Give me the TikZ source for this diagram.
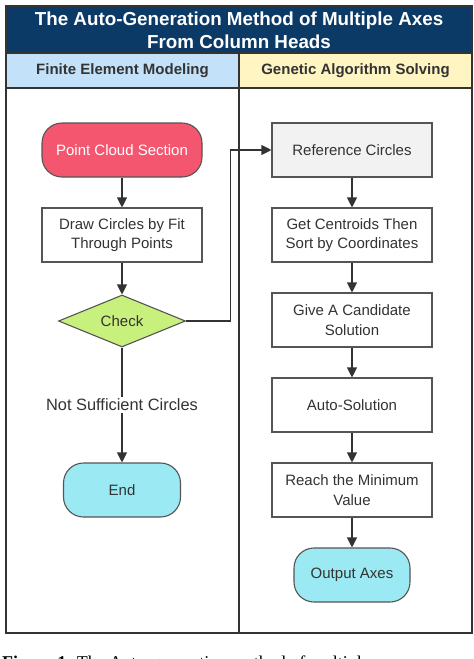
\documentclass[tikz,border=0pt]{standalone}
\usepackage{fontspec}
\setmainfont{Liberation Sans}
\newfontfamily\capfont{Liberation Serif}
\usetikzlibrary{shapes.geometric,arrows.meta}
\definecolor{navy}{HTML}{0B3A66}
\definecolor{hblue}{HTML}{C3E2FA}
\definecolor{hyellow}{HTML}{FFF5C2}
\definecolor{pinkred}{HTML}{F5566F}
\definecolor{lgreen}{HTML}{C8F07C}
\definecolor{lcyan}{HTML}{9AE9F3}
\definecolor{lgray}{HTML}{F2F2F2}
\definecolor{txt}{HTML}{333333}
\definecolor{edge}{HTML}{555555}
\tikzset{
  x=1pt,y=-1pt,
  base/.style={draw=edge,line width=1.1pt,text=txt,font=\fontsize{15}{19.5}\selectfont,align=center},
  procbox/.style={base,rectangle,minimum width=160,minimum height=54,fill=white},
  termbox/.style={base,rectangle,rounded corners=20,minimum height=54},
  decbox/.style={base,diamond,aspect=2.45,minimum width=127,minimum height=52,inner sep=0,fill=lgreen},
  flow/.style={draw=txt,line width=1.1pt,-{Triangle[length=10,width=10]}},
  hdr/.style={font=\bfseries\fontsize{15}{18}\selectfont,text=txt},
}
\begin{document}
\begin{tikzpicture}
\clip (0,0) rectangle (474,659);
\fill[white] (0,0) rectangle (474,659);
% title and headers
\fill[navy] (6,6) rectangle (472,53);
\node[font=\bfseries\fontsize{18.8}{22.5}\selectfont,text=white,align=center] (title) at (239,30.5) {The Auto-Generation Method of Multiple Axes\\From Column Heads};
\fill[hblue] (6,53) rectangle (239,88);
\fill[hyellow] (239,53) rectangle (472,88);
\node[hdr] (h1) at (122.5,71) {Finite Element Modeling};
\node[hdr] (h2) at (355.5,71) {Genetic Algorithm Solving};
\draw[line width=1.8pt,draw=txt] (6,53) -- (472,53) (6,88) -- (472,88) (239,53) -- (239,633);
\draw[line width=1.8pt,draw=txt] (6,6) rectangle (472,633);
% left column
\node[termbox,minimum width=160,fill=pinkred,text=white] (pcs) at (122,150) {Point Cloud Section};
\node[procbox] (dc) at (122,235) {Draw Circles by Fit\\Through Points};
\node[decbox] (chk) at (122,321) {Check};
\node[termbox,minimum width=117,fill=lcyan] (end) at (122,490) {End};
\node[fill=white,text=txt,font=\fontsize{16.4}{19}\selectfont,inner sep=2] (nsc) at (122,405) {Not Sufficient Circles};
% right column
\node[procbox,fill=lgray] (rc) at (352,150) {Reference Circles};
\node[procbox] (gc) at (352,235) {Get Centroids Then\\Sort by Coordinates};
\node[procbox] (gs) at (352,320) {Give A Candidate\\Solution};
\node[procbox] (as) at (352,405) {Auto-Solution};
\node[procbox] (rm) at (352,490) {Reach the Minimum\\Value};
\node[termbox,minimum width=116,fill=lcyan] (oa) at (352,575) {Output Axes};
% connectors
\draw[flow] (pcs) -- (dc);
\draw[flow] (dc) -- (chk);
\draw[draw=txt,line width=1.1pt] (chk) -- (nsc);
\draw[flow] (nsc) -- (end);
\draw[flow] (chk.east) -- ++(44,0) |- (rc.west);
\draw[flow] (rc) -- (gc);
\draw[flow] (gc) -- (gs);
\draw[flow] (gs) -- (as);
\draw[flow] (as) -- (rm);
\draw[flow] (rm) -- (oa);
% caption (cut off at the lower edge, as in the reference)
\node[anchor=base west,font=\capfont\fontsize{18}{20}\selectfont,inner sep=0] (cap) at (2,668) {\textbf{Figure 1.} The Auto-generation method of multiple axes.};
\end{tikzpicture}
\end{document}
